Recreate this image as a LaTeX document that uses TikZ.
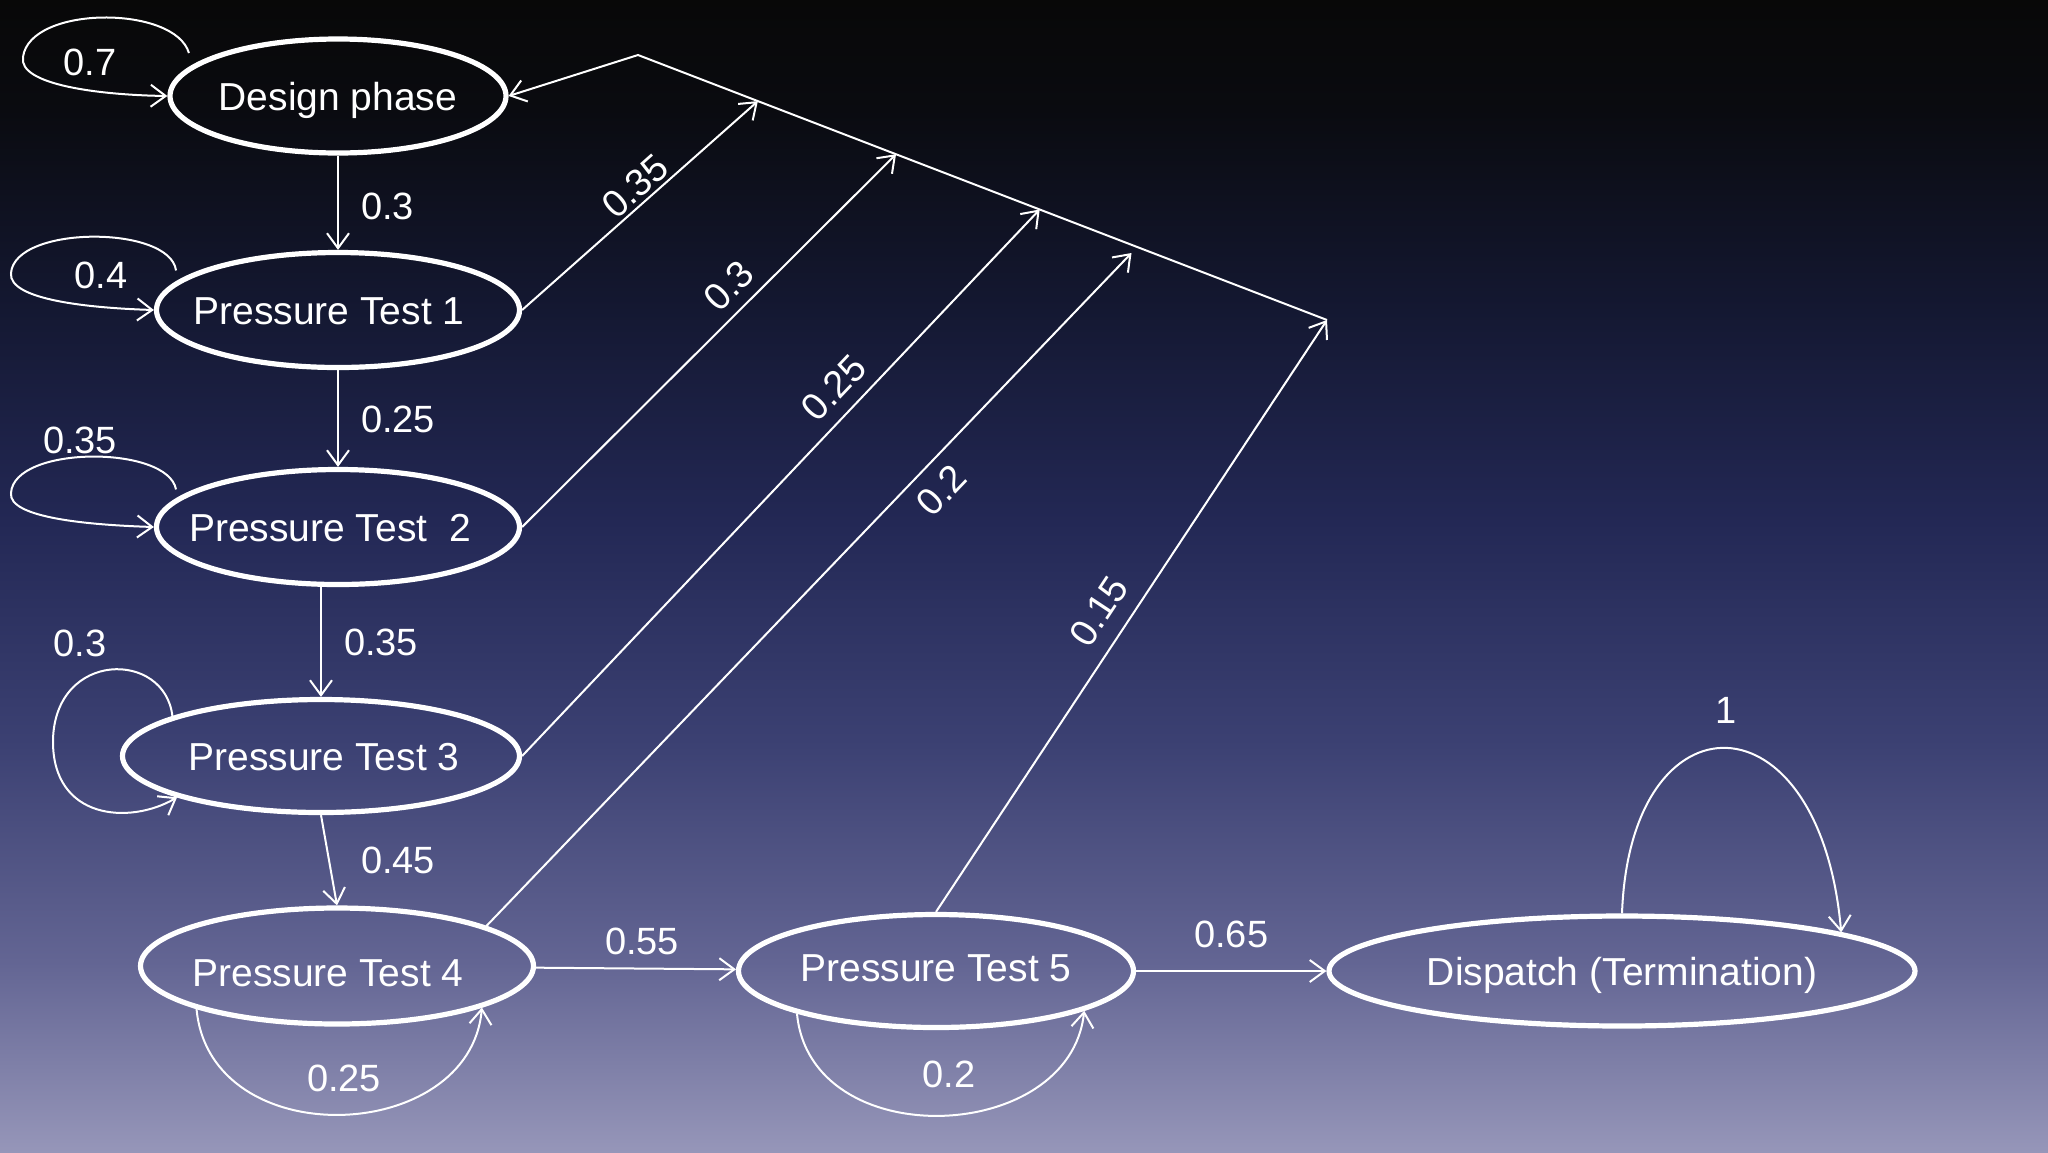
\documentclass[tikz,border=0pt]{standalone}
\usepackage{fontspec}
\setmainfont{Liberation Sans}
\usetikzlibrary{arrows.meta,calc,shapes.geometric}
\definecolor{bgA}{RGB}{8,8,8}
\definecolor{bgB}{RGB}{10,11,16}
\definecolor{bgC}{RGB}{20,24,50}
\definecolor{bgD}{RGB}{35,40,85}
\definecolor{bgE}{RGB}{60,65,115}
\definecolor{bgF}{RGB}{100,102,148}
\definecolor{bgG}{RGB}{150,150,185}
\newcommand{\ctext}[2][0pt]{\makebox[0pt]{\raisebox{#1}{#2}}}
\begin{document}
\begin{tikzpicture}[x=0.5pt,y=-0.5pt,
  state/.style={ellipse, draw=white, line width=2.6pt, inner sep=0pt, text=white,
    font=\fontsize{19.5pt}{23pt}\selectfont, text height=14pt, text depth=0pt},
  conn/.style={draw=white, line width=1pt, -{Straight Barb[length=7.5pt,width=11pt]}},
  lab/.style={text=white, font=\fontsize{19pt}{22pt}\selectfont, inner sep=0pt, text height=13.6pt, text depth=0pt},
]
\useasboundingbox (0,0) rectangle (2048,1152);
% background
\shade[top color=bgA,bottom color=bgB] (0,0) rectangle (2048,111);
\shade[top color=bgB,bottom color=bgC] (0,110) rectangle (2048,311);
\shade[top color=bgC,bottom color=bgD] (0,310) rectangle (2048,523);
\shade[top color=bgD,bottom color=bgE] (0,522) rectangle (2048,747);
\shade[top color=bgE,bottom color=bgF] (0,746) rectangle (2048,967);
\shade[top color=bgF,bottom color=bgG] (0,966) rectangle (2048,1152);

% states
\node[state, minimum width=168pt, minimum height=57pt] (D) at (338,96) {\ctext{Design phase}};
\node[state, minimum width=181.5pt, minimum height=57.5pt] (P1) at (338,310) {\ctext{Pressure Test 1\hspace*{9pt}}};
\node[state, minimum width=181.5pt, minimum height=57.5pt] (P2) at (338,527) {\ctext{Pressure Test\ \ 2\hspace*{8pt}}};
\node[state, minimum width=198.5pt, minimum height=56.5pt] (P3) at (321,756) {\ctext{\hspace*{3pt}Pressure Test 3}};
\node[state, minimum width=196.5pt, minimum height=58pt] (P4) at (337,966) {\ctext[-3pt]{Pressure Test 4\hspace*{9pt}}};
\node[state, minimum width=197.5pt, minimum height=56.5pt] (P5) at (936,971) {\ctext[2pt]{Pressure Test 5}};
\node[state, minimum width=293pt, minimum height=55pt] (Disp) at (1622,971) {\ctext{Dispatch (Termination)}};

% chain
\draw[conn] (D) -- (P1) node[lab, pos=.53, anchor=west, xshift=11pt] (l01) {0.3};
\draw[conn] (P1) -- (P2) node[lab, pos=.5, anchor=west, xshift=11pt] (l12) {0.25};
\draw[conn] (P2.south -| P3.north) -- (P3.north) node[lab, pos=.5, anchor=west, xshift=11pt] (l23) {0.35};
\draw[conn] (P3.south) -- (P4.north) node[lab, pos=.5, anchor=west, xshift=15.5pt] (l34) {0.45};
\draw[conn] (P4) -- (P5) node[lab, pos=.53, above=6.5pt] (l45) {0.55};
\draw[conn] (P5) -- (Disp) node[lab, pos=.5, above=11.5pt] (l5d) {0.65};

% return path
\coordinate (A) at (638,55);
\coordinate (R) at (1327,320);
\coordinate (T4) at (1131.5,253);
\draw[conn] (R) -- (A) -- (D.east);
\draw[conn] (P1.east) -- ($(A)!0.174!(R)$) node[lab, pos=.53, sloped, above=2pt] (r1) {0.35};
\draw[conn] (P2.east) -- ($(A)!0.3745!(R)$) node[lab, pos=.6, sloped, above=5.5pt] (r2) {0.3};
\draw[conn] (P3.east) -- ($(A)!0.583!(R)$) node[lab, pos=.64, sloped, above=6.5pt] (r3) {0.25};
\draw[conn] (P4.15) -- (T4) node[lab, pos=.675, sloped, below=6pt] (r4) {0.2};
\draw[conn] (P5.north) -- (R) node[lab, pos=.48, sloped, above=8pt] (r5) {0.15};

% self loops
\draw[conn] ($(D.169)+(0,-14)$) .. controls (175,5) and (30,5) .. (23,57) .. controls (18,85) and (100,95) .. (D.west);
\node[lab] (s0) at (90,62) {0.7};
\draw[conn] ($(P1.170)+(0,-11)$) .. controls (170,225) and (15,225) .. (11,273) .. controls (8,300) and (90,308) .. (P1.west);
\node[lab] (s1) at (101,275) {0.4};
\draw[conn] ($(P2.170)+(0,-9)$) .. controls (168,445) and (14,445) .. (11,493) .. controls (8,518) and (90,525) .. (P2.west);
\node[lab] (s2) at (80,440) {0.35};
\draw[conn] (P3.165) .. controls (165,650) and (55,650) .. (53,740) .. controls (52,820) and (130,825) .. (P3.196);
\node[lab] (s3) at (80,643) {0.3};
\draw[conn] (P4.197) .. controls (210,1155) and (470,1145) .. (P4.-16);
\node[lab] (s4) at (344,1078) {0.25};
\draw[conn] (P5.197) .. controls (810,1155) and (1070,1145) .. (P5.-15);
\node[lab] (s5) at (949,1074) {0.2};
\draw[conn] (Disp.north) .. controls (1630,690) and (1820,690) .. (Disp.10);
\node[lab] (s6) at (1726,710) {1};
\end{tikzpicture}
\end{document}
